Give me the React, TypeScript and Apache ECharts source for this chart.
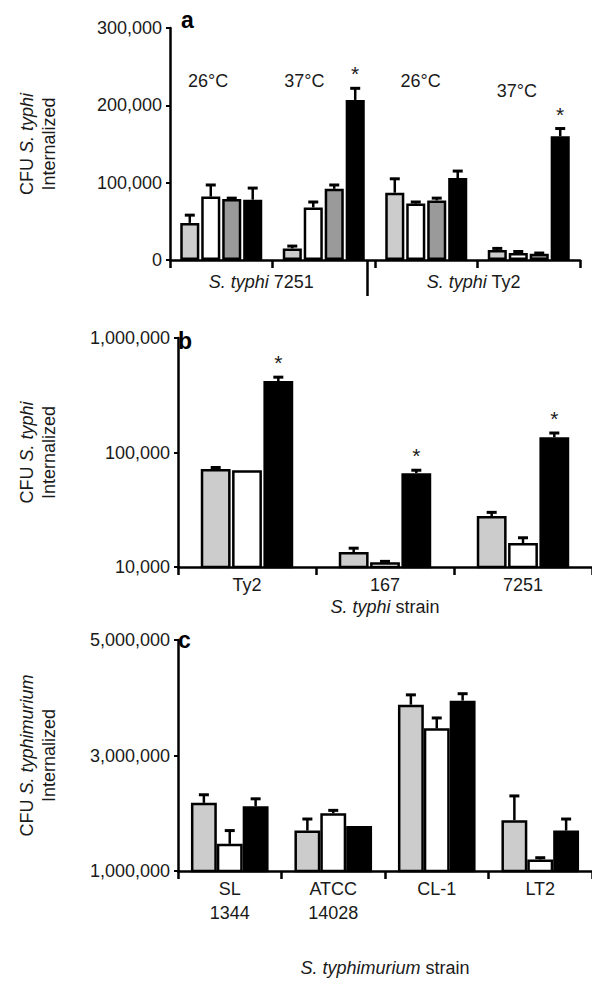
import React, { useEffect, useRef } from "react";
import * as echarts from "echarts";

// Panel a
const aCats = ["7251 26°C", "7251 37°C", "Ty2 26°C", "Ty2 37°C"];
const aVals = [
  [48000, 15000, 87000, 13000],
  [82000, 68000, 73000, 9000],
  [79000, 92000, 77000, 8000],
  [78000, 207000, 106000, 160000],
];
const aErr = [
  [58000, 18000, 105000, 15000],
  [97000, 75000, 75000, 11000],
  [80000, 97000, 80000, 9000],
  [93000, 222000, 115000, 170000],
];
const aStar = [[], [], [], [1, 3]];
const aTemps = ["26°C", "37°C", "26°C", "37°C"];

// Panel b
const bCats = ["Ty2", "167", "7251"];
const bVals = [
  [71800, 13500, 27900],
  [70000, 11000, 16200],
  [421000, 66000, 136000],
];
const bErr = [
  [74000, 14600, 30000],
  [null, 11200, 18000],
  [455000, 70000, 148000],
];
const bStar = [[], [], [0, 1, 2]];

// Panel c
const cCats = ["SL\n1344", "ATCC\n14028", "CL-1", "LT2"];
const cVals = [
  [2180000, 1700000, 3880000, 1880000],
  [1470000, 2000000, 3470000, 1200000],
  [2120000, 1780000, 3950000, 1700000],
];
const cErr = [
  [2320000, 1900000, 4050000, 2300000],
  [1700000, 2050000, 3650000, 1230000],
  [2250000, null, 4070000, 1900000],
];

const FILL3 = ["#cccccc", "#ffffff", "#000000"];
const FILL4 = ["#cccccc", "#ffffff", "#9a9a9a", "#000000"];
const FONT = "Liberation Sans, Arial, sans-serif";
const TXT = "#1a1a1a";
const FS = 18;

function fmt(v: number) {
  return Math.round(v).toLocaleString("en-US");
}

export default function App() {
  const ref = useRef<HTMLDivElement>(null);
  useEffect(() => {
    const chart = echarts.init(ref.current!, null, { renderer: "svg" });

    const grids = [
      { left: 147, right: 12, top: 20, height: 232 },
      { left: 148, right: 0, top: 330, height: 229 },
      { left: 149, right: 0, top: 632, height: 240 },
    ];
    const catGap = [0.2, 0.33, 0.25];
    const barGap = [0.1, 0.05, 0];

    const series: any[] = [];
    const addPanel = (p: number, vals: number[][], errs: (number | null)[][], stars: number[][], fills: string[]) => {
      const n = vals.length;
      vals.forEach((row, i) => {
        series.push({
          type: "bar",
          xAxisIndex: p,
          yAxisIndex: p,
          data: row,
          barCategoryGap: catGap[p] * 100 + "%",
          barGap: barGap[p] * 100 + "%",
          itemStyle: { color: fills[i], borderColor: "#000", borderWidth: 2.5 },
          z: 2,
        });
      });
      vals.forEach((row, i) => {
        const data = row.map((v, k) => [k, v, errs[i][k] == null ? v : errs[i][k], stars[i].includes(k) ? 1 : 0]);
        series.push({
          type: "custom",
          xAxisIndex: p,
          yAxisIndex: p,
          data,
          z: 3,
          renderItem: (params: any, api: any) => {
            const k = api.value(0);
            const v = api.value(1);
            const e = api.value(2);
            const star = api.value(3);
            const band = api.size([1, 0])[0];
            const tot = band * (1 - catGap[p]);
            const w = tot / (n + (n - 1) * barGap[p]);
            const base = api.coord([k, v]);
            const cx = base[0] - tot / 2 + i * w * (1 + barGap[p]) + w / 2;
            const top = api.coord([k, e])[1];
            const children: any[] = [];
            if (e > v) {
              children.push({ type: "line", shape: { x1: cx, y1: base[1], x2: cx, y2: top }, style: { stroke: "#000", lineWidth: 2.5 } });
              children.push({ type: "line", shape: { x1: cx - 5, y1: top, x2: cx + 5, y2: top }, style: { stroke: "#000", lineWidth: 3 } });
            } else if (errs[i][k] != null) {
              children.push({ type: "line", shape: { x1: cx - 5, y1: top - 1.5, x2: cx + 5, y2: top - 1.5 }, style: { stroke: "#000", lineWidth: 3 } });
            }
            if (star) {
              children.push({ type: "text", style: { text: "*", x: cx, y: top - 4, align: "center", verticalAlign: "bottom", fontSize: 21, fontFamily: FONT, fill: TXT } });
            }
            return { type: "group", children };
          },
        });
      });
    };
    addPanel(0, aVals, aErr, aStar, FILL4);
    addPanel(1, bVals, bErr, bStar, FILL3);
    addPanel(2, cVals, cErr, [[], [], []], FILL3);

    const axisLine = { lineStyle: { color: "#000", width: 2.5 } };
    const yBase = {
      axisLine: { show: true, ...axisLine },
      axisTick: { show: true, length: 4, lineStyle: { color: "#000", width: 2 } },
      splitLine: { show: false },
      axisLabel: { fontSize: FS, color: TXT, fontFamily: FONT, margin: 8, formatter: fmt },
      nameLocation: "middle",
      nameRotate: 90,
      nameTextStyle: { fontSize: FS, color: TXT, fontFamily: FONT, lineHeight: 22, rich: { i: { fontSize: FS, fontStyle: "italic", fontFamily: FONT, color: TXT } } },
    };
    const xBase = {
      type: "category",
      axisLine,
      axisTick: { show: true, length: 8, lineStyle: { color: "#000", width: 2.5 } },
      axisLabel: { fontSize: FS, color: TXT, fontFamily: FONT, margin: 6, lineHeight: 24 },
      nameLocation: "middle",
      nameTextStyle: { fontSize: FS, color: TXT, fontFamily: FONT, rich: { i: { fontSize: FS, fontStyle: "italic", fontFamily: FONT, color: TXT } } },
    };

    const gA = grids[0];
    const bandA = (584 - gA.left - gA.right) / 4;
    const axisYA = gA.top + gA.height;

    chart.setOption({
      animation: false,
      grid: grids,
      xAxis: [
        { ...xBase, gridIndex: 0, data: aCats, axisLabel: { show: false } },
        { ...xBase, gridIndex: 1, data: bCats, name: "{i|S. typhi} strain", nameGap: 30 },
        { ...xBase, gridIndex: 2, data: cCats, name: "{i|S. typhimurium} strain", nameGap: 88 },
      ],
      yAxis: [
        { ...yBase, gridIndex: 0, type: "value", min: 0, max: 300000, interval: 100000, name: "CFU {i|S. typhi}\nInternalized", nameGap: 110 },
        { ...yBase, gridIndex: 1, type: "log", logBase: 10, min: 10000, max: 1000000, name: "CFU {i|S. typhi}\nInternalized", nameGap: 118 },
        { ...yBase, gridIndex: 2, type: "value", min: 1000000, max: 5000000, interval: 2000000, name: "CFU {i|S. typhimurium}\nInternalized", nameGap: 118 },
      ],
      series,
      graphic: [
        { type: "text", left: 173, top: 0, style: { text: "a", fontSize: 23, fontWeight: "bold", fontFamily: FONT, fill: "#000" } },
        { type: "text", left: 170, top: 321, style: { text: "b", fontSize: 23, fontWeight: "bold", fontFamily: FONT, fill: "#000" } },
        { type: "text", left: 170, top: 620, style: { text: "c", fontSize: 23, fontWeight: "bold", fontFamily: FONT, fill: "#000" } },
        ...aTemps.map((t, i) => ({
          type: "text",
          x: gA.left + bandA * (i + 0.5) - (i % 2 === 0 ? 0 : 10),
          y: i === 3 ? 83 : 73,
          style: { text: t, fontSize: FS, fontFamily: FONT, fill: TXT, align: "center", verticalAlign: "middle" },
        })),
        { type: "line", shape: { x1: gA.left + bandA * 2, y1: axisYA, x2: gA.left + bandA * 2, y2: axisYA + 36 }, style: { stroke: "#000", lineWidth: 2.5 } },
        ...["7251", "Ty2"].map((s, i) => ({
          type: "text",
          x: gA.left + bandA * (1 + 2 * i),
          y: axisYA + 22,
          style: {
            text: "{i|S. typhi} " + s,
            fontSize: FS, fontFamily: FONT, fill: TXT, align: "center", verticalAlign: "middle",
            rich: { i: { fontSize: FS, fontStyle: "italic", fontFamily: FONT, fill: TXT } },
          },
        })),
      ],
    });
    return () => chart.dispose();
  }, []);
  return <div ref={ref} style={{ width: 584, height: 970 }} />;
}
